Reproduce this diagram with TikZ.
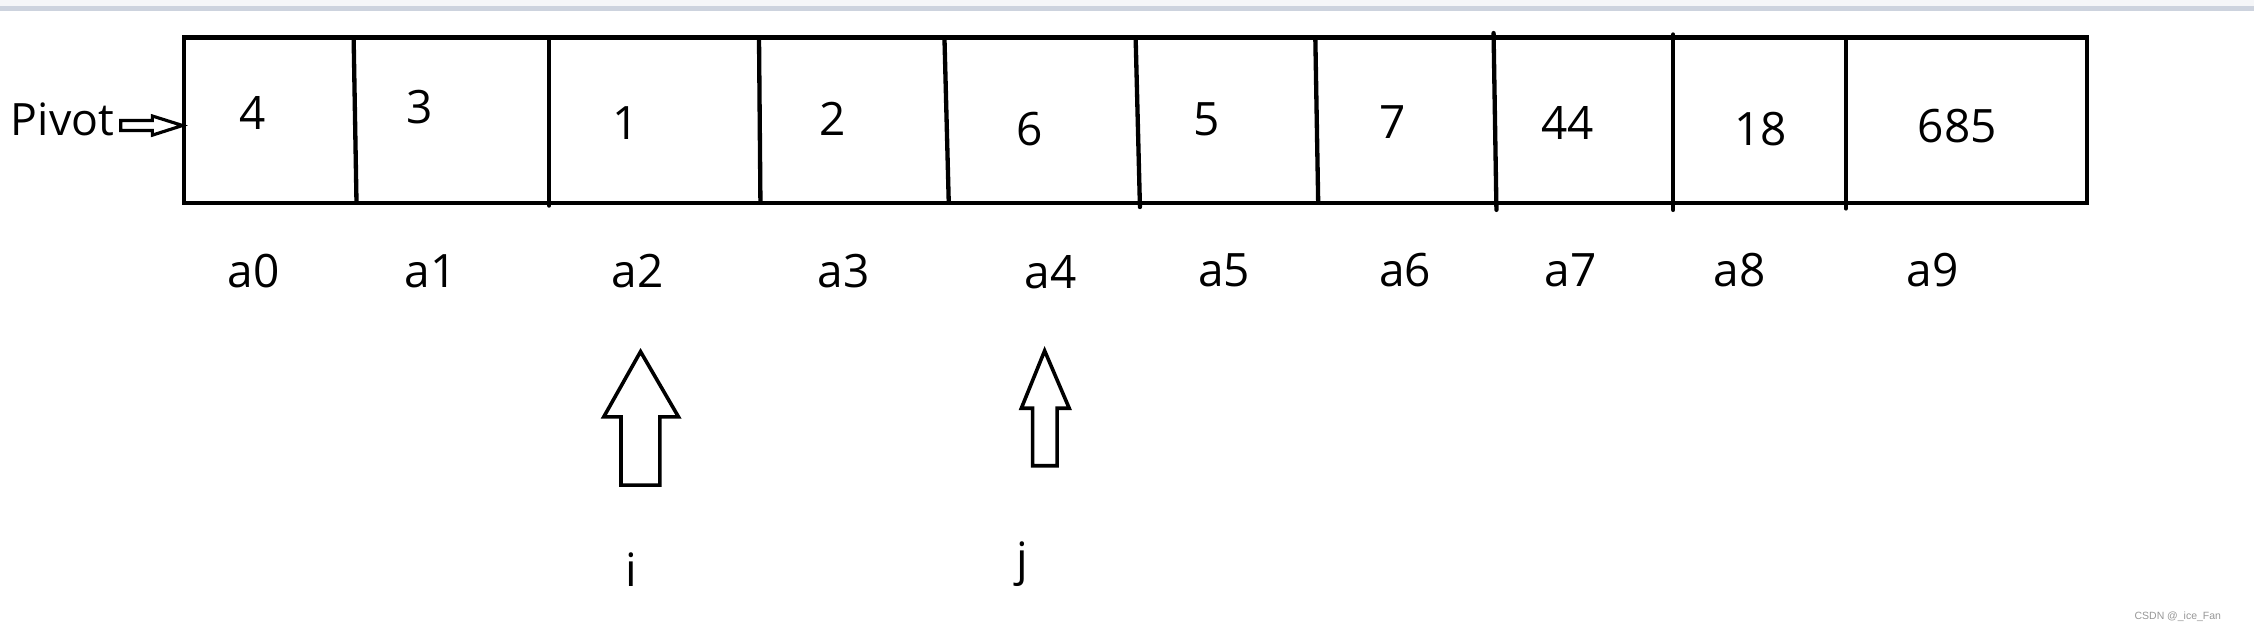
\documentclass[tikz,border=0pt]{standalone}
\usepackage{fontspec}
\setmainfont{Open Sans}
\newfontfamily\wmfont{Liberation Sans}
\definecolor{topband}{RGB}{245,246,248}
\definecolor{topline}{RGB}{205,211,222}
\definecolor{wmgray}{RGB}{150,150,150}
\begin{document}
\begin{tikzpicture}[x=1pt,y=-1pt,
  txt/.style={inner sep=0pt, anchor=base, font=\fontsize{32}{38}\selectfont},
  cellline/.style={line width=3pt, line cap=round},
  hollow/.style={line width=2.5pt, line join=miter, fill=white}]
\useasboundingbox (0,0) rectangle (1568,439.65);
% top band
\fill[topband] (0,0) rectangle (1568,4);
\fill[topline] (0,4) rectangle (1568,7.5);
% array box
\draw[cellline, line cap=butt] (128,26) rectangle (1452,141);
\draw[cellline] (246,26) -- (248,141);
\draw[cellline] (382,26) -- (382,143);
\draw[cellline] (528,26) -- (529,141);
\draw[cellline] (657,26) -- (660,141);
\draw[cellline] (790,26) -- (793,144);
\draw[cellline] (915,26) -- (917,141);
\draw[cellline] (1039,23) -- (1041,146);
\draw[cellline] (1164,24) -- (1164,146);
\draw[cellline] (1284,26) -- (1284,145);
% values
\node[txt] (v0) at (175.5,90) {4};
\node[txt] (v1) at (292,86) {3};
\node[txt] (v2) at (435.5,97) {1};
\node[txt] (v3) at (579.5,94) {2};
\node[txt] (v4) at (716.5,101) {6};
\node[txt] (v5) at (839.5,94) {5};
\node[txt] (v6) at (968.5,96) {7};
\node[txt] (v7) at (1090.5,97) {44};
\node[txt] (v8) at (1225,101) {18};
\node[txt] (v9) at (1361.5,99) {685};
% index labels
\node[txt] (a0) at (176.5,200) {a0};
\node[txt] (a1) at (299.5,200) {a1};
\node[txt] (a2) at (443.5,200) {a2};
\node[txt] (a3) at (587,200) {a3};
\node[txt] (a4) at (731,201) {a4};
\node[txt] (a5) at (851.5,199.5) {a5};
\node[txt] (a6) at (977.5,199.5) {a6};
\node[txt] (a7) at (1092.5,199.5) {a7};
\node[txt] (a8) at (1210,199.5) {a8};
\node[txt] (a9) at (1344.5,199.5) {a9};
% pivot
\node[txt, font=\fontsize{31}{37}\selectfont] (pivot) at (43.5,94) {Pivot};
\draw[line width=2.2pt, line join=miter, fill=white]
  (84,83.8) -- (106,83.8) -- (106,80.7) -- (127,87.3) -- (106,94) -- (106,90.8) -- (84,90.8) -- cycle;
% i arrow
\draw[hollow] (445.6,244.6) -- (472,290) -- (459,290) -- (459,337.5) -- (432,337.5) -- (432,290) -- (420,290) -- cycle;
\node[txt] (i) at (439,408) {i};
% j arrow
\draw[hollow] (726.7,244) -- (743.8,284) -- (735.4,284) -- (735.4,324) -- (718.3,324) -- (718.3,284) -- (710.5,284) -- cycle;
\node[txt] (j) at (711,400) {j};
% watermark
\node[inner sep=0pt, anchor=base, text=wmgray, font=\wmfont\fontsize{7.3}{9}\selectfont] (wm) at (1515,431) {CSDN @\_ice\_Fan};
\end{tikzpicture}
\end{document}
